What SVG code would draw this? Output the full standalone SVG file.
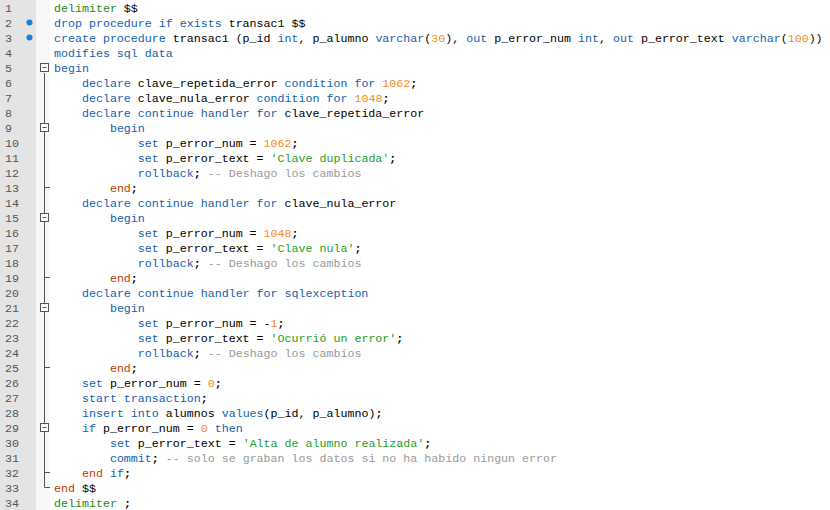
<svg xmlns="http://www.w3.org/2000/svg" width="830" height="510" viewBox="0 0 830 510">
<style>
text{font-family:"Liberation Mono","DejaVu Sans Mono",monospace;font-size:11.65px;white-space:pre;fill:#000}
.ln{fill:#555}
.k{fill:#1560b0}
.g{fill:#1a8a1a}
.n{fill:#f08c1c}
.s{fill:#22a022}
.c{fill:#9a9a9a}
.e{fill:#c03a00}
.p{font-weight:bold}
.fold{fill:#fff;stroke:#555;stroke-width:1}
.fl{stroke:#555;stroke-width:1;fill:none}
</style>
<rect width="830" height="510" fill="#fff"/>
<rect width="36" height="510" fill="#e4e4e4"/>
<rect x="36" width="14" height="510" fill="#f7f7f7"/>
<g id="gutter" transform="translate(0,1)">
<text class="ln" x="5" y="11">1</text><text class="ln" x="5" y="26">2</text><text class="ln" x="5" y="41">3</text><text class="ln" x="5" y="56">4</text><text class="ln" x="5" y="71">5</text><text class="ln" x="5" y="86">6</text><text class="ln" x="5" y="101">7</text><text class="ln" x="5" y="116">8</text><text class="ln" x="5" y="131">9</text><text class="ln" x="5" y="146">10</text><text class="ln" x="5" y="161">11</text><text class="ln" x="5" y="176">12</text><text class="ln" x="5" y="191">13</text><text class="ln" x="5" y="206">14</text><text class="ln" x="5" y="221">15</text><text class="ln" x="5" y="236">16</text><text class="ln" x="5" y="251">17</text><text class="ln" x="5" y="266">18</text><text class="ln" x="5" y="281">19</text><text class="ln" x="5" y="296">20</text><text class="ln" x="5" y="311">21</text><text class="ln" x="5" y="326">22</text><text class="ln" x="5" y="341">23</text><text class="ln" x="5" y="356">24</text><text class="ln" x="5" y="371">25</text><text class="ln" x="5" y="386">26</text><text class="ln" x="5" y="401">27</text><text class="ln" x="5" y="416">28</text><text class="ln" x="5" y="431">29</text><text class="ln" x="5" y="446">30</text><text class="ln" x="5" y="461">31</text><text class="ln" x="5" y="476">32</text><text class="ln" x="5" y="491">33</text><text class="ln" x="5" y="506">34</text>
</g>
<circle cx="29.5" cy="22.5" r="3" fill="#1a7fe0"/>
<circle cx="29.5" cy="37.5" r="3" fill="#1a7fe0"/>
<g id="folds">
<path class="fl" d="M44.5 73 V487.5 H50 M44.5 187.5 H50 M44.5 277.5 H50 M44.5 367.5 H50 M44.5 472.5 H50"/>
<rect class="fold" x="40.5" y="63.5" width="8" height="8"/>
<rect class="fold" x="40.5" y="123.5" width="8" height="8"/>
<rect class="fold" x="40.5" y="213.5" width="8" height="8"/>
<rect class="fold" x="40.5" y="303.5" width="8" height="8"/>
<rect class="fold" x="40.5" y="423.5" width="8" height="8"/>
<path class="fl" d="M42.5 67.5 H46.5 M42.5 127.5 H46.5 M42.5 217.5 H46.5 M42.5 307.5 H46.5 M42.5 427.5 H46.5"/>
</g>
<g id="code" transform="translate(0,1)">
<text x="54" y="11"><tspan class="g">delimiter</tspan> $$</text>
<text x="54" y="26"><tspan class="k">drop procedure if exists</tspan> transac1 $$</text>
<text x="54" y="41"><tspan class="k">create procedure</tspan> transac1 (p_id <tspan class="k">int</tspan>, p_alumno <tspan class="k">varchar</tspan>(<tspan class="n">30</tspan>), <tspan class="k">out</tspan> p_error_num <tspan class="k">int</tspan>, <tspan class="k">out</tspan> p_error_text <tspan class="k">varchar</tspan>(<tspan class="n">100</tspan>))</text>
<text x="54" y="56"><tspan class="k">modifies sql data</tspan></text>
<text x="54" y="71"><tspan class="k">begin</tspan></text>
<text x="54" y="86">    <tspan class="k">declare</tspan> clave_repetida_error <tspan class="k">condition for</tspan> <tspan class="n">1062</tspan><tspan class="p">;</tspan></text>
<text x="54" y="101">    <tspan class="k">declare</tspan> clave_nula_error <tspan class="k">condition for</tspan> <tspan class="n">1048</tspan><tspan class="p">;</tspan></text>
<text x="54" y="116">    <tspan class="k">declare continue handler for</tspan> clave_repetida_error</text>
<text x="54" y="131">        <tspan class="k">begin</tspan></text>
<text x="54" y="146">            <tspan class="k">set</tspan> p_error_num = <tspan class="n">1062</tspan><tspan class="p">;</tspan></text>
<text x="54" y="161">            <tspan class="k">set</tspan> p_error_text = <tspan class="s">'Clave duplicada'</tspan><tspan class="p">;</tspan></text>
<text x="54" y="176">            <tspan class="k">rollback</tspan><tspan class="p">;</tspan> <tspan class="c">-- Deshago los cambios</tspan></text>
<text x="54" y="191">        <tspan class="e">end</tspan><tspan class="p">;</tspan></text>
<text x="54" y="206">    <tspan class="k">declare continue handler for</tspan> clave_nula_error</text>
<text x="54" y="221">        <tspan class="k">begin</tspan></text>
<text x="54" y="236">            <tspan class="k">set</tspan> p_error_num = <tspan class="n">1048</tspan><tspan class="p">;</tspan></text>
<text x="54" y="251">            <tspan class="k">set</tspan> p_error_text = <tspan class="s">'Clave nula'</tspan><tspan class="p">;</tspan></text>
<text x="54" y="266">            <tspan class="k">rollback</tspan><tspan class="p">;</tspan> <tspan class="c">-- Deshago los cambios</tspan></text>
<text x="54" y="281">        <tspan class="e">end</tspan><tspan class="p">;</tspan></text>
<text x="54" y="296">    <tspan class="k">declare continue handler for sqlexception</tspan></text>
<text x="54" y="311">        <tspan class="k">begin</tspan></text>
<text x="54" y="326">            <tspan class="k">set</tspan> p_error_num = -<tspan class="n">1</tspan><tspan class="p">;</tspan></text>
<text x="54" y="341">            <tspan class="k">set</tspan> p_error_text = <tspan class="s">'Ocurrió un error'</tspan><tspan class="p">;</tspan></text>
<text x="54" y="356">            <tspan class="k">rollback</tspan><tspan class="p">;</tspan> <tspan class="c">-- Deshago los cambios</tspan></text>
<text x="54" y="371">        <tspan class="e">end</tspan><tspan class="p">;</tspan></text>
<text x="54" y="386">    <tspan class="k">set</tspan> p_error_num = <tspan class="n">0</tspan><tspan class="p">;</tspan></text>
<text x="54" y="401">    <tspan class="k">start transaction</tspan><tspan class="p">;</tspan></text>
<text x="54" y="416">    <tspan class="k">insert into</tspan> alumnos <tspan class="k">values</tspan>(p_id, p_alumno)<tspan class="p">;</tspan></text>
<text x="54" y="431">    <tspan class="k">if</tspan> p_error_num = <tspan class="n">0</tspan> <tspan class="k">then</tspan></text>
<text x="54" y="446">        <tspan class="k">set</tspan> p_error_text = <tspan class="s">'Alta de alumno realizada'</tspan><tspan class="p">;</tspan></text>
<text x="54" y="461">        <tspan class="k">commit</tspan><tspan class="p">;</tspan> <tspan class="c">-- solo se graban los datos si no ha habido ningun error</tspan></text>
<text x="54" y="476">    <tspan class="e">end</tspan> <tspan class="k">if</tspan><tspan class="p">;</tspan></text>
<text x="54" y="491"><tspan class="e">end</tspan> $$</text>
<text x="54" y="506"><tspan class="g">delimiter</tspan> <tspan class="p">;</tspan></text>
</g>
</svg>
